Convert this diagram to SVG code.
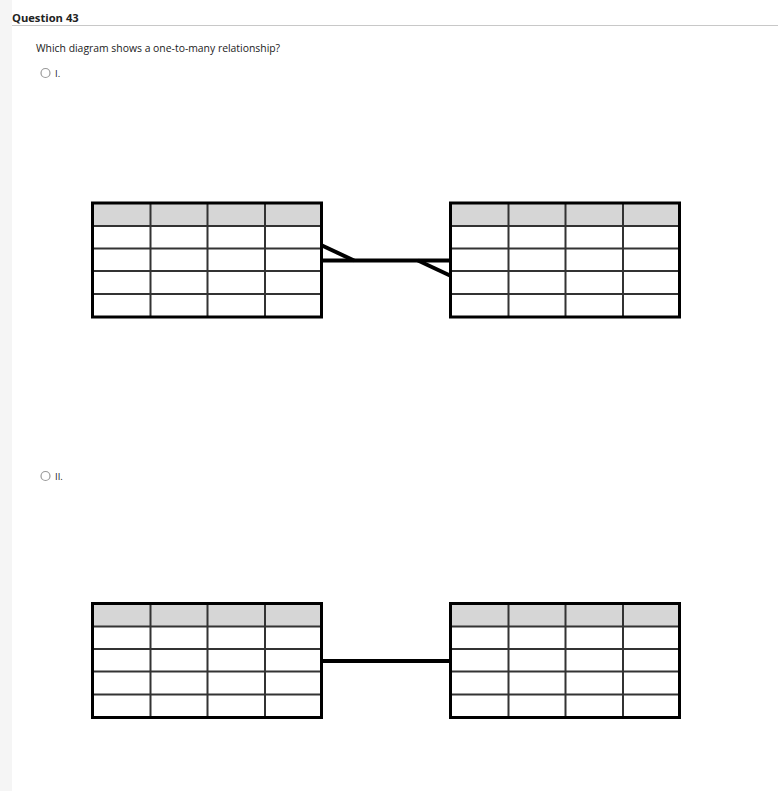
<svg xmlns="http://www.w3.org/2000/svg" width="778" height="791" viewBox="0 0 778 791">
<style>
.t{font-family:"Open Sans","Liberation Sans",sans-serif;fill:#222}
.hdr{fill:#d6d6d6}
.grid{stroke:#333;stroke-width:2;fill:none}
.outer{stroke:#000;stroke-width:3;fill:none}
.conn{stroke:#000;stroke-width:4;fill:none}
.radio{fill:#fff;stroke:#999;stroke-width:1.2}
</style>
<defs>
<g id="tbl">
<rect x="0" y="0" width="229" height="114" fill="#fff"/>
<rect class="hdr" x="0" y="0" width="229" height="23"/>
<path class="grid" d="M0 23H229M0 45.5H229M0 68H229M0 91H229M58 0V114M115 0V114M172.5 0V114"/>
<rect class="outer" x="0" y="0" width="229" height="114"/>
</g>
</defs>
<rect x="0" y="0" width="778" height="791" fill="#fff"/>
<rect x="0" y="0" width="12" height="791" fill="#f5f5f5"/>
<g id="header">
<text class="t" x="12" y="22" font-size="11.2" font-weight="bold" fill="#222">Question 43</text>
<line x1="12" y1="25.5" x2="778" y2="25.5" stroke="#c8c8c8" stroke-width="1"/>
<text class="t" x="36" y="52" font-size="10.4">Which diagram shows a one-to-many relationship?</text>
</g>
<g id="option1">
<circle class="radio" cx="45.5" cy="73" r="4.5"/>
<text class="t" x="55" y="76.5" font-size="9.5">I.</text>
</g>
<g id="option2">
<circle class="radio" cx="45.5" cy="476" r="4.5"/>
<text class="t" x="55" y="479.5" font-size="9.5">II.</text>
</g>
<g id="table1a"><use href="#tbl" x="92.5" y="203"/></g>
<g id="table1b"><use href="#tbl" x="450.5" y="203"/></g>
<g id="table2a"><use href="#tbl" x="92.5" y="603.5"/></g>
<g id="table2b"><use href="#tbl" x="450.5" y="603.5"/></g>
<g id="connectors">
<line class="conn" x1="322" y1="260.5" x2="451" y2="260.5"/>
<line class="conn" x1="321" y1="245" x2="354" y2="260.5"/>
<line class="conn" x1="418" y1="260.5" x2="451" y2="276"/>
<line class="conn" x1="322" y1="661" x2="451" y2="661"/>
</g>
</svg>
